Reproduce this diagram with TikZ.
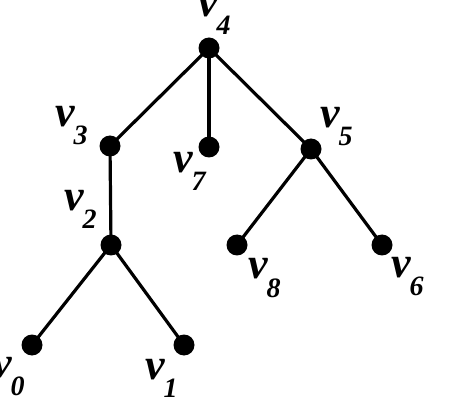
\documentclass[tikz,border=0pt]{standalone}
\usepackage{fontspec}
\setmainfont{Liberation Serif}
\newcommand{\vlab}[1]{{\fontsize{44}{44}\selectfont\bfseries\itshape v}\kern-1pt\raisebox{-18pt}{\fontsize{28}{28}\selectfont\bfseries\itshape #1}}
\tikzset{
  vert/.style={circle,fill=black,inner sep=0pt,minimum size=21pt},
  edge/.style={line width=3.2pt},
  lab/.style={inner sep=0pt,anchor=base west}
}
\begin{document}
\begin{tikzpicture}[x=1pt,y=-1pt]
\useasboundingbox (0,0) rectangle (474,414);
\node[vert] (v4) at (209,48) {};
\node[vert] (v3) at (110,146) {};
\node[vert] (v7) at (209,147) {};
\node[vert] (v5) at (311,149) {};
\node[vert] (v2) at (111,245) {};
\node[vert] (v8) at (237,245) {};
\node[vert] (v6) at (382,245) {};
\node[vert] (v0) at (32,345) {};
\node[vert] (v1) at (184,345) {};
\draw[edge] (v4.center) -- (v3.center);
\draw[edge] (v4.center) -- (v7.center);
\draw[edge] (v4.center) -- (v5.center);
\draw[edge] (v3.center) -- (v2.center);
\draw[edge] (v2.center) -- (v0.center);
\draw[edge] (v2.center) -- (v1.center);
\draw[edge] (v5.center) -- (v8.center);
\draw[edge] (v5.center) -- (v6.center);
\node[lab] (l4) at (198,17) {\vlab{4}};
\node[lab] (l3) at (55,127) {\vlab{3}};
\node[lab] (l7) at (173,173) {\vlab{7}};
\node[lab] (l5) at (320,128) {\vlab{5}};
\node[lab] (l2) at (64,211) {\vlab{2}};
\node[lab] (l8) at (248,279) {\vlab{8}};
\node[lab] (l6) at (391,277) {\vlab{6}};
\node[lab] (l0) at (-8,377) {\vlab{0}};
\node[lab] (l1) at (145,379) {\vlab{1}};
\end{tikzpicture}
\end{document}
